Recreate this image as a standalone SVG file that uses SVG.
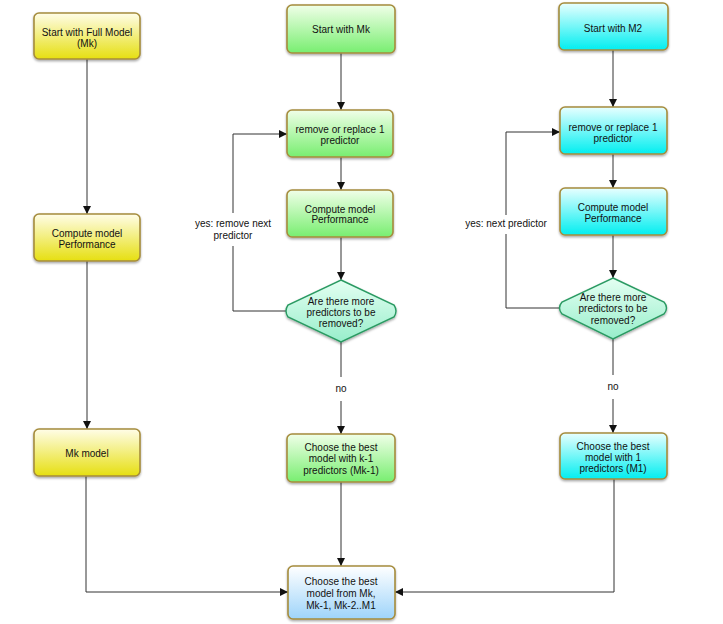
<svg xmlns="http://www.w3.org/2000/svg" width="723" height="624" viewBox="0 0 723 624">
<defs>
<linearGradient id="gY" x1="0" y1="0" x2="0" y2="1"><stop offset="0" stop-color="#fffde8"/><stop offset="1" stop-color="#e6df10"/></linearGradient>
<linearGradient id="gG" x1="0" y1="0" x2="0" y2="1"><stop offset="0" stop-color="#f0ffe8"/><stop offset="1" stop-color="#78ee70"/></linearGradient>
<linearGradient id="gC" x1="0" y1="0" x2="0" y2="1"><stop offset="0" stop-color="#e8ffff"/><stop offset="1" stop-color="#00eef0"/></linearGradient>
<linearGradient id="gB" x1="0" y1="0" x2="0" y2="1"><stop offset="0" stop-color="#ffffff"/><stop offset="1" stop-color="#9ed4fa"/></linearGradient>
<linearGradient id="gD" x1="0" y1="0" x2="0" y2="1"><stop offset="0" stop-color="#e4fff2"/><stop offset="1" stop-color="#98eecb"/></linearGradient>
<filter id="sh" x="-10%" y="-10%" width="130%" height="140%"><feDropShadow dx="0" dy="1.5" stdDeviation="1.2" flood-color="#000" flood-opacity="0.35"/></filter>
<marker id="ar" viewBox="0 0 10 10" refX="10" refY="5" markerWidth="8" markerHeight="8" markerUnits="userSpaceOnUse" orient="auto"><path d="M0,0 L10,5 L0,10 z" fill="#111"/></marker>
</defs>
<style>
.box{stroke:#a58c3c;stroke-width:1.6;filter:url(#sh)}
.dia{stroke:#2a9a62;stroke-width:1.4;filter:url(#sh)}
.t{font-family:"Liberation Sans",Arial,sans-serif;font-size:10px;fill:#111;text-anchor:middle}
.c{fill:none;stroke:#333;stroke-width:1}
</style>
<rect width="723" height="624" fill="#fff"/>
<g id="connectors">
<path class="c" d="M87,59 V214" marker-end="url(#ar)"/>
<path class="c" d="M87,261 V429" marker-end="url(#ar)"/>
<path class="c" d="M86,476 V592 H288" marker-end="url(#ar)"/>
<path class="c" d="M341,53 V110" marker-end="url(#ar)"/>
<path class="c" d="M341,157 V190" marker-end="url(#ar)"/>
<path class="c" d="M341,237 V280" marker-end="url(#ar)"/>
<path class="c" d="M341,342 V377"/>
<path class="c" d="M341,401 V434" marker-end="url(#ar)"/>
<path class="c" d="M341,482 V566" marker-end="url(#ar)"/>
<path class="c" d="M286,311 H233 V246"/>
<path class="c" d="M233,213 V134 H287" marker-end="url(#ar)"/>
<path class="c" d="M613,50 V107" marker-end="url(#ar)"/>
<path class="c" d="M613,154 V188" marker-end="url(#ar)"/>
<path class="c" d="M613,235 V278" marker-end="url(#ar)"/>
<path class="c" d="M613,339 V375"/>
<path class="c" d="M613,399 V433" marker-end="url(#ar)"/>
<path class="c" d="M614,479 V592 H395" marker-end="url(#ar)"/>
<path class="c" d="M559,308 H506 V234"/>
<path class="c" d="M506,215 V132 H560" marker-end="url(#ar)"/>
<text class="t" x="233" y="227">yes: remove next</text>
<text class="t" x="233" y="239">predictor</text>
<text class="t" x="506" y="227">yes: next predictor</text>
<text class="t" x="341" y="392">no</text>
<text class="t" x="613" y="390">no</text>
</g>
<g id="startFull"><rect class="box" x="34" y="13" width="106" height="46" rx="5" fill="url(#gY)"/><text class="t" x="87" y="35.5">Start with Full Model</text><text class="t" x="87" y="47">(Mk)</text></g>
<g id="computeLeft"><rect class="box" x="34" y="214" width="106" height="47" rx="5" fill="url(#gY)"/><text class="t" x="87" y="236.5">Compute model</text><text class="t" x="87" y="248">Performance</text></g>
<g id="mkModel"><rect class="box" x="34" y="429" width="106" height="47" rx="5" fill="url(#gY)"/><text class="t" x="87" y="456.5">Mk model</text></g>
<g id="startMk"><rect class="box" x="287" y="5" width="108" height="48" rx="5" fill="url(#gG)"/><text class="t" x="341" y="32.5">Start with Mk</text></g>
<g id="removeMid"><rect class="box" x="287" y="110" width="106" height="47" rx="5" fill="url(#gG)"/><text class="t" x="340" y="132.5">remove or replace 1</text><text class="t" x="340" y="144">predictor</text></g>
<g id="computeMid"><rect class="box" x="287" y="190" width="106" height="47" rx="5" fill="url(#gG)"/><text class="t" x="340" y="212.5">Compute model</text><text class="t" x="340" y="223">Performance</text></g>
<g id="diamondMid"><path class="dia" d="M341,280 L394,305 Q398,311 394,317 L341,342 L288,317 Q284,311 288,305 Z" fill="url(#gD)"/><text class="t" x="341" y="304.5">Are there more</text><text class="t" x="341" y="315.5">predictors to be</text><text class="t" x="341" y="326.5">removed?</text></g>
<g id="chooseMid"><rect class="box" x="287" y="434" width="108" height="48" rx="5" fill="url(#gG)"/><text class="t" x="341" y="450.5">Choose the best</text><text class="t" x="341" y="462">model with k-1</text><text class="t" x="341" y="473.5">predictors (Mk-1)</text></g>
<g id="startM2"><rect class="box" x="559" y="3" width="109" height="47" rx="5" fill="url(#gC)"/><text class="t" x="613" y="31.5">Start with M2</text></g>
<g id="removeRight"><rect class="box" x="560" y="107" width="107" height="47" rx="5" fill="url(#gC)"/><text class="t" x="613" y="130.5">remove or replace 1</text><text class="t" x="613" y="141.5">predictor</text></g>
<g id="computeRight"><rect class="box" x="560" y="188" width="107" height="47" rx="5" fill="url(#gC)"/><text class="t" x="613" y="210.5">Compute model</text><text class="t" x="613" y="221.5">Performance</text></g>
<g id="diamondRight"><path class="dia" d="M613,278 L664,302 Q669,308 664,314 L613,339 L562,314 Q557,308 562,302 Z" fill="url(#gD)"/><text class="t" x="613" y="301">Are there more</text><text class="t" x="613" y="312">predictors to be</text><text class="t" x="613" y="323.5">removed?</text></g>
<g id="chooseRight"><rect class="box" x="560" y="433" width="107" height="46" rx="5" fill="url(#gC)"/><text class="t" x="613" y="449.5">Choose the best</text><text class="t" x="613" y="461">model with 1</text><text class="t" x="613" y="472">predictors (M1)</text></g>
<g id="chooseFinal"><rect class="box" x="288" y="566" width="107" height="53" rx="5" fill="url(#gB)"/><text class="t" x="341" y="584.5">Choose the best</text><text class="t" x="341" y="596.5">model from Mk,</text><text class="t" x="341" y="608.5">Mk-1, Mk-2..M1</text></g>
</svg>
